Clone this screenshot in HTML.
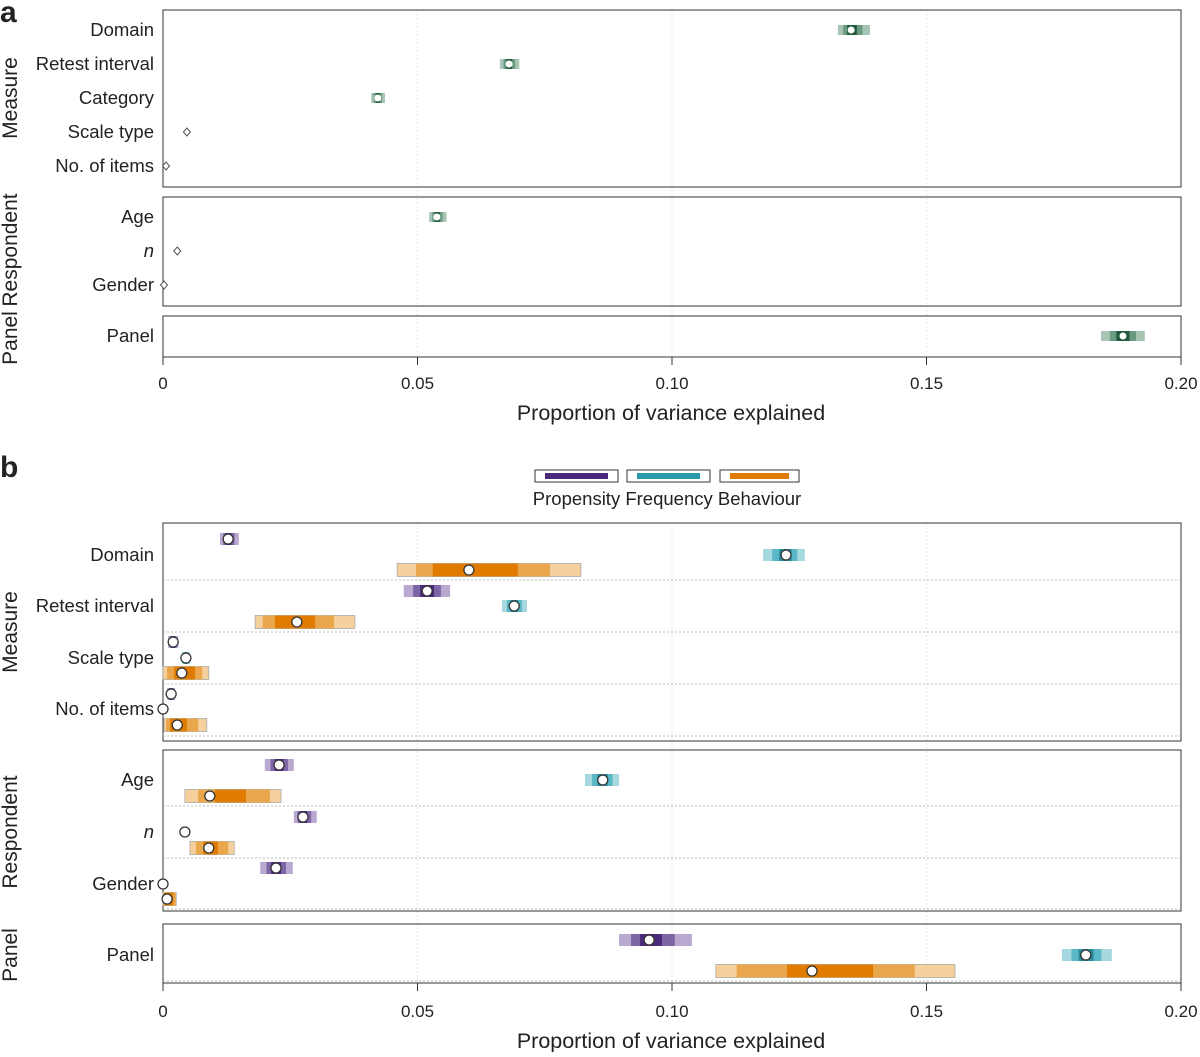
<!DOCTYPE html>
<html><head><meta charset="utf-8"><style>
body{margin:0;background:#fff;}
svg text{font-family:"Liberation Sans",sans-serif;fill:#222;}
</style></head><body>
<svg id="chart" width="1200" height="1052" viewBox="0 0 1200 1052" xmlns="http://www.w3.org/2000/svg"></svg>
<script>
// Panel a data: point, lo, hi
const aLabels=["Domain","Retest interval","Category","Scale type","No. of items","Age","n","Gender","Panel"];
const aRowY=[30,64,98,132,166,217,251,285,336];
const aPoint=[0.1352,0.068,0.0422,0.0047,0.0006,0.0538,0.0028,0.0002,0.1886];
const aLo=[0.1326,0.0662,0.0409,null,null,0.0523,null,null,0.1843];
const aHi=[0.1389,0.0700,0.0436,null,null,0.0557,null,null,0.1929];

// Panel b data
const bLabels=["Domain","Retest interval","Scale type","No. of items","Age","n","Gender","Panel"];
const bLabelY=[555,606,658,709,780,832,884,955];
const bRowY=[[539,555,570],[591,606,622],[642,658,673],[694,709,725],[765,780,796],[817,832,848],[868,884,899],[940,955,971]];
const propPoint=[0.0128,0.0519,0.002,0.0016,0.0228,0.0275,0.0222,0.0955];
const propLo=[0.0112,0.0473,0.001,0.0008,0.0200,0.0257,0.0191,0.0896];
const propHi=[0.0149,0.0564,0.003,0.0024,0.0257,0.0302,0.0255,0.1039];
const freqPoint=[0.1224,0.069,0.0045,0.0,0.0864,0.0043,0.0,0.1813];
const freqLo=[0.1179,0.0666,0.0037,null,0.0829,null,null,0.1766];
const freqHi=[0.1261,0.0715,0.0053,null,0.0896,null,null,0.1864];
const behPoint=[0.0601,0.0263,0.0037,0.0028,0.0092,0.009,0.0008,0.1275];
const behLo95=[0.046,0.0181,0.0,0.0002,0.0043,0.0053,0.0,0.1086];
const behLo80=[0.0497,0.0196,0.0008,0.0006,0.0069,0.0065,0.0001,0.1127];
const behLo50=[0.053,0.022,0.0022,0.0014,0.0102,0.0079,0.0002,0.1226];
const behHi50=[0.0697,0.0299,0.0063,0.0047,0.0163,0.0108,0.0020,0.1395];
const behHi80=[0.076,0.0336,0.0077,0.0069,0.0210,0.0128,0.0025,0.1477];
const behHi95=[0.0821,0.0377,0.0090,0.0086,0.0232,0.0140,0.0026,0.1556];
const xTicks=[0,0.05,0.10,0.15,0.20];
const xTickLabels=["0","0.05","0.10","0.15","0.20"];

const NS="http://www.w3.org/2000/svg";
const svg=document.getElementById('chart');
const X0=163,X1=1181;
function x(v){return X0+(v/0.20)*(X1-X0);}
function el(tag,attrs,parent){const e=document.createElementNS(NS,tag);for(const k in attrs)e.setAttribute(k,attrs[k]);(parent||svg).appendChild(e);return e;}
function txt(s,attrs){const t=el('text',attrs);t.textContent=s;return t;}

function panelBox(y0,y1,name){
  const r=el('rect',{x:X0,y:y0,width:X1-X0,height:y1-y0,fill:'none',stroke:'#333','stroke-width':1});
  
  
}
function grid(y0,y1){
  xTicks.forEach((t,i)=>{if(i==0||i==4)return;
    const l=el('line',{x1:x(t),x2:x(t),y1:y0,y2:y1,stroke:'#e6e6e6','stroke-width':1,'stroke-dasharray':'2,2'});
    
    
  });
}
function xAxis(yBase,yLab,yTitle,name){
  xTicks.forEach((t,i)=>{
    const tk=el('line',{x1:x(t),x2:x(t),y1:yBase,y2:yBase+8,stroke:'#333','stroke-width':1});
    
    
    const tl=txt(xTickLabels[i],{x:x(t),y:yLab,'font-size':17,'text-anchor':'middle'});
    
    
  });
  const tt=txt('Proportion of variance explained',{x:671,y:yTitle,'font-size':21.5,'text-anchor':'middle'});
  
  
}
function groupLabel(s,cy,name){
  const t=txt(s,{x:0,y:0,'font-size':21,'text-anchor':'middle',transform:`translate(17,${cy}) rotate(-90)`});
  
  
}
function rowLabel(s,y,italic){
  const t=txt(s,{x:154,y:y+6,'font-size':18.5,'text-anchor':'end','font-style':italic?'italic':'normal'});
  
  
}
function dot(v,y,r,name){
  const c=el('circle',{cx:x(v),cy:y,r:r,fill:'#fff',stroke:'#333','stroke-width':1.3});
  
  
}
function band(lo,hi,y,h,fill,name,stroke){
  const r=el('rect',{x:x(lo),y:y-h/2,width:Math.max(1,x(hi)-x(lo)),height:h,fill:fill,stroke:stroke||'none','stroke-width':0.8});
  
  
}
function simpleInterval(lo,hi,pt,y,h,cols,name){
  band(lo,hi,y,h,cols[2],name+'-outer');
  const l2=pt-(pt-lo)*0.6,h2=pt+(hi-pt)*0.6;
  band(l2,h2,y,h,cols[1],name+'-mid');
  const l3=pt-(pt-lo)*0.3,h3=pt+(hi-pt)*0.3;
  band(l3,h3,y,h,cols[0],name+'-inner');
}

// ---------- Panel a ----------
const pa=txt('a',{x:0,y:22,'font-size':30,'font-weight':'bold'});

grid(10,357);
panelBox(10,187,'panel-a-measure-box');
panelBox(197,306,'panel-a-respondent-box');
panelBox(316,357,'panel-a-panel-box');
groupLabel('Measure',98,'panel-a-measure-title');
groupLabel('Respondent',250,'panel-a-respondent-title');
groupLabel('Panel',338,'panel-a-panel-title');
const green=['#1f5a3e','#6a9a80','#a8c4b5'];
aLabels.forEach((s,i)=>{
  rowLabel(s,aRowY[i],s==='n');
  if(aLo[i]!==null) simpleInterval(aLo[i],aHi[i],aPoint[i],aRowY[i],10,green,'a-interval');
  if(aLo[i]!==null){
    const c=el('circle',{cx:x(aPoint[i]),cy:aRowY[i],r:3.5,fill:'#fff'});
    
  } else {
    const d=el('path',{d:`M${x(aPoint[i])-3.5},${aRowY[i]} l3.5,-4 l3.5,4 l-3.5,4 z`,fill:'#fff',stroke:'#555','stroke-width':1});
    
  }
});
xAxis(357,389,420,'panel-a-x-axis-title');

// ---------- Panel b ----------
const pb=txt('b',{x:0,y:477,'font-size':30,'font-weight':'bold'});

const legItems=[['Propensity','#4a2a7a',535,618],['Frequency','#2a9aab',627,710],['Behaviour','#e07b00',720,799]];
legItems.forEach(([n,c,a,b])=>{
  const r=el('rect',{x:a,y:470,width:b-a,height:12,fill:'#fff',stroke:'#333','stroke-width':1});
  
  el('rect',{x:a+10,y:473,width:b-a-20,height:6,fill:c});
});
const lt=txt('Propensity Frequency Behaviour',{x:667,y:505,'font-size':18.5,'text-anchor':'middle'});


grid(523,983);
panelBox(523,741,'panel-b-measure-box');
panelBox(750,911,'panel-b-respondent-box');
panelBox(924,983,'panel-b-panel-box');
[580,632,684,736,806,858,909,981].forEach(y=>{
  const l=el('line',{x1:X0,x2:X1,y1:y,y2:y,stroke:'#bbb','stroke-width':1,'stroke-dasharray':'2,2'});
  
});
groupLabel('Measure',632,'panel-b-measure-title');
groupLabel('Respondent',832,'panel-b-respondent-title');
groupLabel('Panel',955,'panel-b-panel-title');

const purple=['#4a2a7a','#7d65a6','#b9a9d0'];
const teal=['#2a8a9b','#5ab8c6','#a5d8df'];
bLabels.forEach((s,i)=>{
  rowLabel(s,bLabelY[i],s==='n');
  const [yp,yf,yb]=bRowY[i];
  simpleInterval(propLo[i],propHi[i],propPoint[i],yp,12,purple,'propensity-interval');
  dot(propPoint[i],yp,5,'propensity-point');
  if(freqLo[i]!==null) simpleInterval(freqLo[i],freqHi[i],freqPoint[i],yf,12,teal,'frequency-interval');
  dot(freqPoint[i],yf,5,'frequency-point');
  band(behLo95[i],behHi95[i],yb,13,'#f5cf9c','behaviour-interval-95','#aaa');
  band(behLo80[i],behHi80[i],yb,13,'#e9a64a','behaviour-interval-80');
  band(behLo50[i],behHi50[i],yb,13,'#e07b00','behaviour-interval-50');
  dot(behPoint[i],yb,5,'behaviour-point');
});
xAxis(983,1017,1048,'panel-b-x-axis-title');
</script>
</body></html>
